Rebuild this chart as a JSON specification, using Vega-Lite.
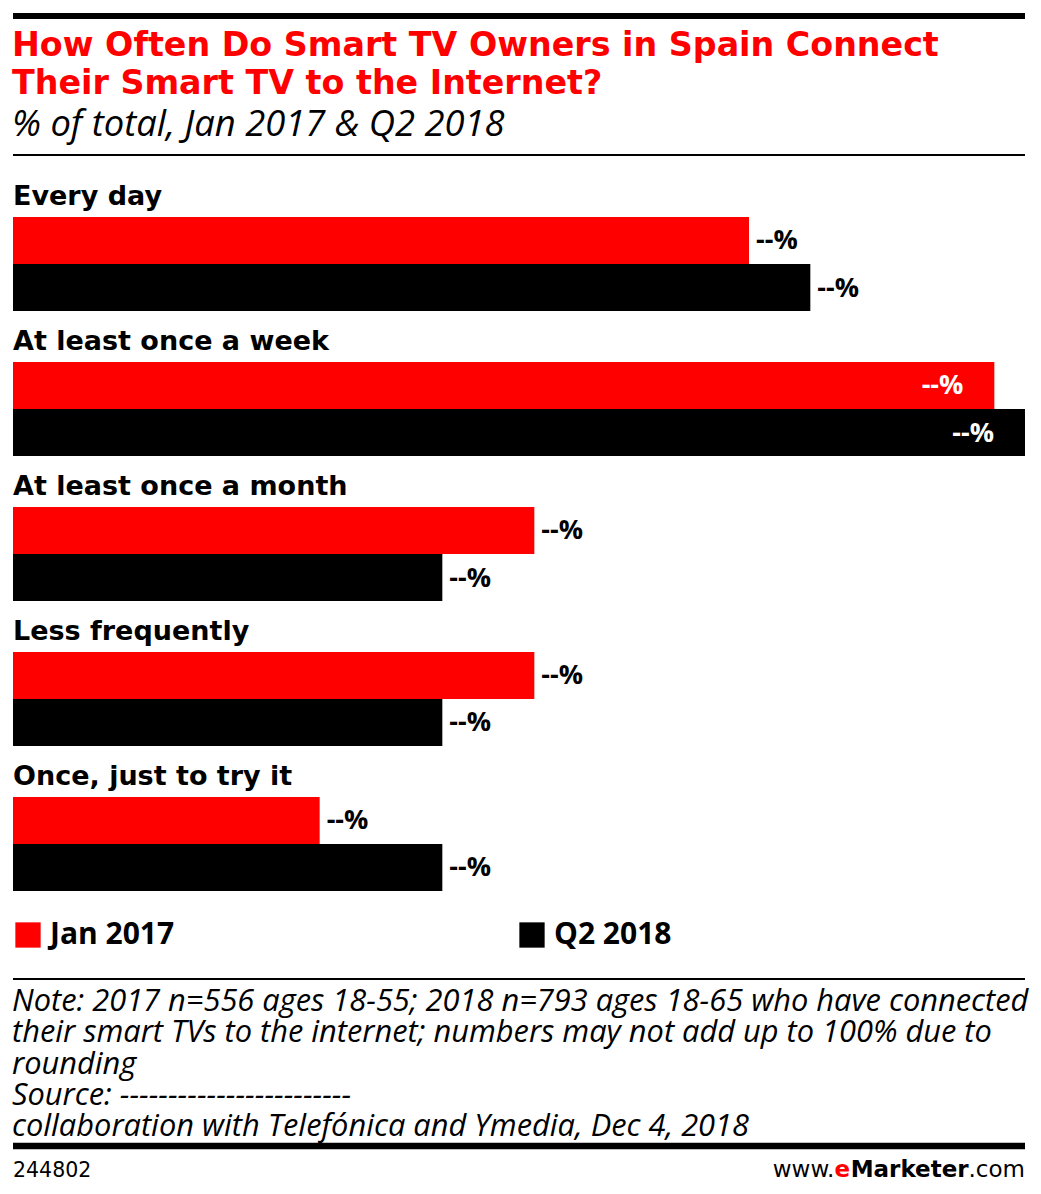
{
  "$schema": "https://vega.github.io/schema/vega-lite/v6.json",
  "background": "white",
  "padding": {"left": 9, "top": 13, "right": 12, "bottom": 0},
  "spacing": 0,
  "resolve": {"legend": {"color": "independent"}},
  "config": {"view": {"stroke": null}, "concat": {"spacing": 0}},
  "datasets": {
    "bars": [
      {"category": "Every day", "series": "Jan 2017", "value": 24},
      {"category": "Every day", "series": "Q2 2018", "value": 26},
      {"category": "At least once a week", "series": "Jan 2017", "value": 32},
      {"category": "At least once a week", "series": "Q2 2018", "value": 33},
      {"category": "At least once a month", "series": "Jan 2017", "value": 17},
      {"category": "At least once a month", "series": "Q2 2018", "value": 14},
      {"category": "Less frequently", "series": "Jan 2017", "value": 17},
      {"category": "Less frequently", "series": "Q2 2018", "value": 14},
      {"category": "Once, just to try it", "series": "Jan 2017", "value": 10},
      {"category": "Once, just to try it", "series": "Q2 2018", "value": 14}
    ]
  },
  "vconcat": [
    {
      "width": 1012,
      "height": 13,
      "data": {"values": [{}]},
      "mark": {"type": "rule", "strokeWidth": 6, "color": "#000000"},
      "encoding": {"x": {"value": 0}, "x2": {"value": "width"}, "y": {"value": 0}}
    },
    {
      "width": 1012,
      "height": 10.5,
      "title": {
        "text": ["How Often Do Smart TV Owners in Spain Connect", "Their Smart TV to the Internet?"],
        "subtitle": "% of total, Jan 2017 & Q2 2018",
        "anchor": "start",
        "font": "DejaVu Sans",
        "fontSize": 33.3,
        "fontWeight": "bold",
        "color": "#ff0000",
        "lineHeight": 37.5,
        "subtitleFont": "Open Sans",
        "subtitleFontSize": 36.4,
        "subtitleFontStyle": "italic",
        "subtitleColor": "#000000",
        "subtitlePadding": 6,
        "offset": 9.5
      },
      "data": {"values": [{}]},
      "mark": {"type": "rule", "strokeWidth": 2, "color": "#000000"},
      "encoding": {"x": {"value": 0}, "x2": {"value": "width"}, "y": {"value": 0}}
    },
    {
      "width": 1012,
      "height": 725,
      "data": {"name": "bars"},
      "encoding": {
        "y": {
          "field": "category",
          "type": "nominal",
          "sort": ["Every day", "At least once a week", "At least once a month", "Less frequently", "Once, just to try it"],
          "scale": {"paddingInner": 0.3517, "paddingOuter": 0.17586, "align": 1},
          "axis": null
        }
      },
      "layer": [
        {
          "mark": {"type": "bar"},
          "encoding": {
            "x": {"field": "value", "type": "quantitative", "scale": {"domain": [0, 33], "nice": false, "zero": true}, "axis": null},
            "yOffset": {"field": "series", "scale": {"domain": ["Jan 2017", "Q2 2018"], "paddingInner": 0, "paddingOuter": 0}},
            "color": {
              "field": "series",
              "type": "nominal",
              "scale": {"domain": ["Jan 2017", "Q2 2018"], "range": ["#ff0000", "#000000"]},
              "legend": {
                "orient": "bottom",
                "direction": "horizontal",
                "title": null,
                "symbolType": "square",
                "symbolSize": 640,
                "symbolStrokeWidth": 0,
                "symbolOpacity": 1,
                "labelFont": "Open Sans",
                "labelFontWeight": "bold",
                "labelFontSize": 30,
                "labelColor": "#000000",
                "labelOffset": 7,
                "labelLimit": 400,
                "columnPadding": 342,
                "offset": 29,
                "padding": 0
              }
            }
          }
        },
        {
          "transform": [{"filter": "datum.category !== 'At least once a week'"}],
          "mark": {"type": "text", "align": "left", "baseline": "middle", "dx": 7, "dy": 1, "font": "Open Sans", "fontWeight": "bold", "fontSize": 27},
          "encoding": {
            "x": {"field": "value", "type": "quantitative"},
            "yOffset": {"field": "series"},
            "text": {"value": "--%"},
            "color": {"value": "#000000"}
          }
        },
        {
          "transform": [{"filter": "datum.category === 'At least once a week'"}],
          "mark": {"type": "text", "align": "right", "baseline": "middle", "dx": -31, "dy": 1, "font": "Open Sans", "fontWeight": "bold", "fontSize": 27},
          "encoding": {
            "x": {"field": "value", "type": "quantitative"},
            "yOffset": {"field": "series"},
            "text": {"value": "--%"},
            "color": {"value": "#ffffff"}
          }
        },
        {
          "transform": [{"filter": "datum.series === 'Jan 2017'"}],
          "mark": {"type": "text", "align": "left", "baseline": "alphabetic", "dy": -12, "font": "DejaVu Sans", "fontWeight": "bold", "fontSize": 27},
          "encoding": {
            "y": {
              "field": "category",
              "type": "nominal",
              "sort": ["Every day", "At least once a week", "At least once a month", "Less frequently", "Once, just to try it"],
              "bandPosition": 0
            },
            "x": {"datum": 0},
            "text": {"field": "category"},
            "color": {"value": "#000000"}
          }
        }
      ]
    },
    {
      "width": 1012,
      "height": 29,
      "title": {
        "text": [
          "Note: 2017 n=556 ages 18-55; 2018 n=793 ages 18-65 who have connected",
          "their smart TVs to the internet; numbers may not add up to 100% due to",
          "rounding",
          "Source: ------------------------",
          "collaboration with Telefónica and Ymedia, Dec 4, 2018"
        ],
        "orient": "bottom",
        "anchor": "start",
        "font": "Open Sans",
        "fontSize": 30.8,
        "fontStyle": "italic",
        "fontWeight": "normal",
        "color": "#000000",
        "lineHeight": 31.3,
        "offset": 7
      },
      "data": {"values": [{}]},
      "mark": {"type": "rule", "strokeWidth": 2, "color": "#000000"},
      "encoding": {"x": {"value": 0}, "x2": {"value": "width"}, "y": {"value": "height"}}
    },
    {
      "width": 1012,
      "height": 31,
      "data": {"values": [{}]},
      "layer": [
        {
          "mark": {"type": "rule", "strokeWidth": 6.5, "color": "#000000"},
          "encoding": {"x": {"value": 0}, "x2": {"value": "width"}, "y": {"value": 0}}
        },
        {
          "mark": {"type": "text", "align": "left", "baseline": "alphabetic", "font": "DejaVu Sans", "fontSize": 20.5, "color": "#000000"},
          "encoding": {"x": {"datum": 0, "type": "quantitative", "scale": {"domain": [0, 1]}, "axis": null}, "y": {"value": "height"}, "text": {"value": "244802"}}
        },
        {
          "mark": {"type": "text", "align": "right", "baseline": "alphabetic", "font": "DejaVu Sans", "fontSize": 23, "color": "#000000"},
          "encoding": {"x": {"datum": 1, "type": "quantitative"}, "y": {"value": "height"}, "text": {"value": ".com"}}
        },
        {
          "mark": {"type": "text", "align": "right", "baseline": "alphabetic", "font": "DejaVu Sans", "fontWeight": "bold", "fontSize": 23, "color": "#000000", "dx": -56.4},
          "encoding": {"x": {"datum": 1, "type": "quantitative"}, "y": {"value": "height"}, "text": {"value": "Marketer"}}
        },
        {
          "mark": {"type": "text", "align": "right", "baseline": "alphabetic", "font": "DejaVu Sans", "fontWeight": "bold", "fontSize": 23, "color": "#ff0000", "dx": -175},
          "encoding": {"x": {"datum": 1, "type": "quantitative"}, "y": {"value": "height"}, "text": {"value": "e"}}
        },
        {
          "mark": {"type": "text", "align": "right", "baseline": "alphabetic", "font": "DejaVu Sans", "fontSize": 23, "color": "#000000", "dx": -190.6},
          "encoding": {"x": {"datum": 1, "type": "quantitative"}, "y": {"value": "height"}, "text": {"value": "www."}}
        }
      ]
    }
  ]
}
